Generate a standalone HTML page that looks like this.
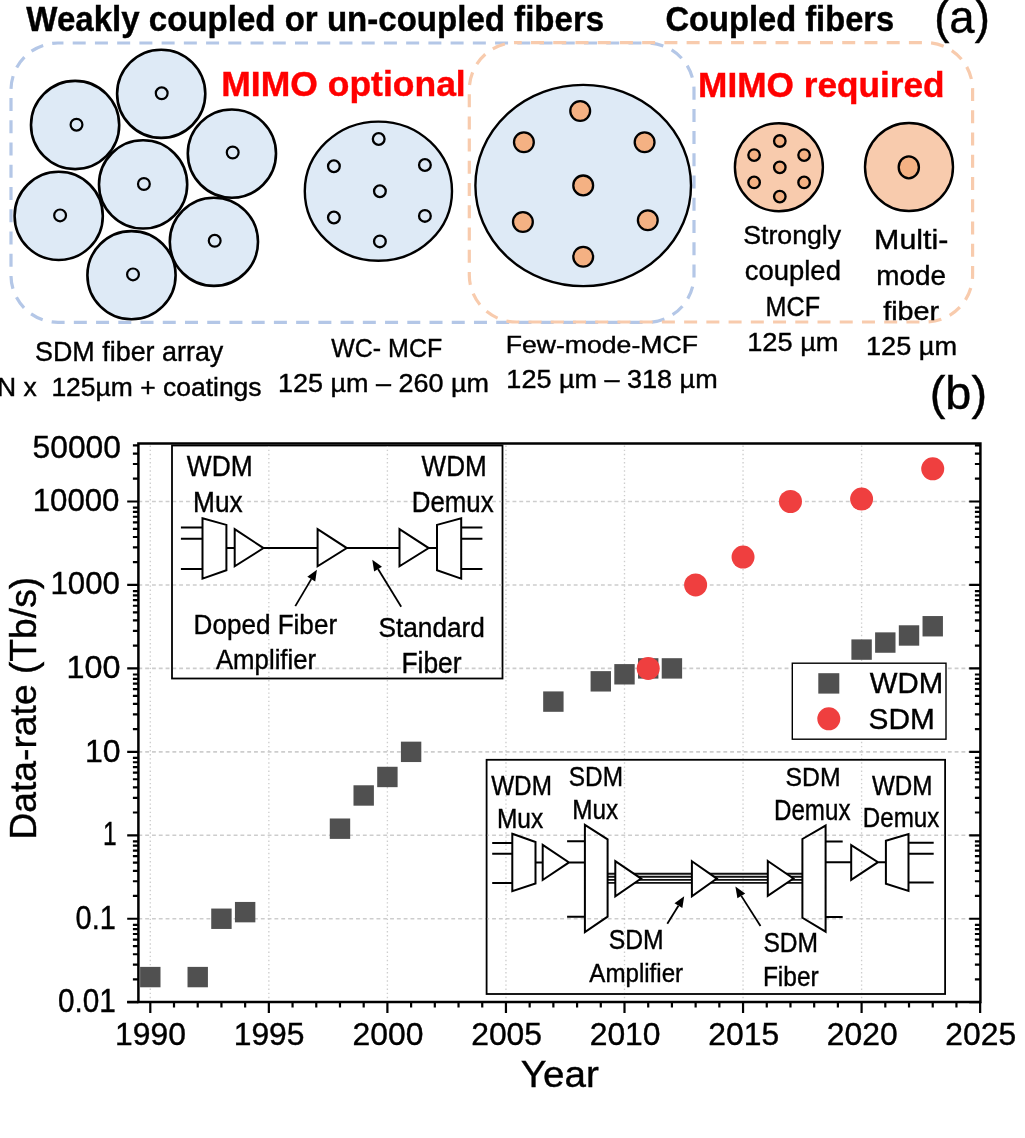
<!DOCTYPE html>
<html><head><meta charset="utf-8"><style>
html,body{margin:0;padding:0;background:#fff;width:1025px;height:1138px;overflow:hidden}
svg{display:block;will-change:transform}
text{font-family:"Liberation Sans",sans-serif;white-space:pre}
</style></head><body>
<svg width="1025" height="1138" viewBox="0 0 1025 1138">
<defs><mask id="bm" maskUnits="userSpaceOnUse" x="0" y="0" width="1025" height="1138"><rect width="1025" height="1138" fill="#fff"/><path d="M615.3 861.2L641.1 878.6L615.3 896.3ZM691.9 861.2L716.8 878.6L691.9 896.3ZM767.8 861L793.4 878.5L767.8 895.9Z" fill="#000"/></mask><clipPath id="in1"><rect x="173" y="446.5" width="328.5" height="231"/></clipPath><clipPath id="in2"><rect x="487.6" y="760.8" width="456.5" height="232.2"/></clipPath></defs>
<rect width="1025" height="1138" fill="#fff"/>
<rect x="11" y="43" width="683" height="279.3" rx="47" ry="47" fill="none" stroke="#B4C7E7" stroke-width="3.2" stroke-dasharray="13 9.23" stroke-dashoffset="7.53"/>
<rect x="469.3" y="42.6" width="503.3" height="279.4" rx="47" ry="47" fill="none" stroke="#F8CBAD" stroke-width="3.2" stroke-dasharray="13 9.23" stroke-dashoffset="7.53"/>
<circle cx="75.1" cy="125.0" r="44.1" fill="#DEEAF6" stroke="#000" stroke-width="2.6"/>
<circle cx="76.5" cy="124.7" r="5.9" fill="#DEEAF6" stroke="#000" stroke-width="2.2"/>
<circle cx="161.2" cy="93.8" r="44.1" fill="#DEEAF6" stroke="#000" stroke-width="2.6"/>
<circle cx="161.7" cy="93.3" r="5.9" fill="#DEEAF6" stroke="#000" stroke-width="2.2"/>
<circle cx="231.9" cy="153.6" r="44.1" fill="#DEEAF6" stroke="#000" stroke-width="2.6"/>
<circle cx="232.7" cy="152.5" r="5.9" fill="#DEEAF6" stroke="#000" stroke-width="2.2"/>
<circle cx="143.1" cy="184.4" r="44.1" fill="#DEEAF6" stroke="#000" stroke-width="2.6"/>
<circle cx="143.9" cy="184.0" r="5.9" fill="#DEEAF6" stroke="#000" stroke-width="2.2"/>
<circle cx="58.7" cy="215.9" r="44.1" fill="#DEEAF6" stroke="#000" stroke-width="2.6"/>
<circle cx="60.1" cy="215.4" r="5.9" fill="#DEEAF6" stroke="#000" stroke-width="2.2"/>
<circle cx="213.9" cy="241.8" r="44.1" fill="#DEEAF6" stroke="#000" stroke-width="2.6"/>
<circle cx="214.7" cy="240.8" r="5.9" fill="#DEEAF6" stroke="#000" stroke-width="2.2"/>
<circle cx="131.5" cy="275.2" r="44.1" fill="#DEEAF6" stroke="#000" stroke-width="2.6"/>
<circle cx="133.0" cy="274.4" r="5.9" fill="#DEEAF6" stroke="#000" stroke-width="2.2"/>
<ellipse cx="378.4" cy="191.2" rx="73.6" ry="69.6" fill="#DEEAF6" stroke="#000" stroke-width="2.4"/>
<circle cx="378.7" cy="139" r="5.85" fill="#DEEAF6" stroke="#000" stroke-width="2.3"/>
<circle cx="333.9" cy="166.2" r="5.85" fill="#DEEAF6" stroke="#000" stroke-width="2.3"/>
<circle cx="424.9" cy="165" r="5.85" fill="#DEEAF6" stroke="#000" stroke-width="2.3"/>
<circle cx="379.9" cy="191.3" r="5.85" fill="#DEEAF6" stroke="#000" stroke-width="2.3"/>
<circle cx="333.9" cy="217.5" r="5.85" fill="#DEEAF6" stroke="#000" stroke-width="2.3"/>
<circle cx="424.9" cy="215.9" r="5.85" fill="#DEEAF6" stroke="#000" stroke-width="2.3"/>
<circle cx="379.9" cy="241.4" r="5.85" fill="#DEEAF6" stroke="#000" stroke-width="2.3"/>
<ellipse cx="583.2" cy="185.5" rx="107.8" ry="100.6" fill="#DEEAF6" stroke="#000" stroke-width="2.4"/>
<circle cx="580.2" cy="111" r="9.9" fill="#F4B183" stroke="#000" stroke-width="2.3"/>
<circle cx="523.9" cy="142.2" r="9.9" fill="#F4B183" stroke="#000" stroke-width="2.3"/>
<circle cx="644.6" cy="142.2" r="9.9" fill="#F4B183" stroke="#000" stroke-width="2.3"/>
<circle cx="583.2" cy="185.4" r="9.9" fill="#F4B183" stroke="#000" stroke-width="2.3"/>
<circle cx="522.9" cy="222" r="9.9" fill="#F4B183" stroke="#000" stroke-width="2.3"/>
<circle cx="647.8" cy="220.2" r="9.9" fill="#F4B183" stroke="#000" stroke-width="2.3"/>
<circle cx="583.2" cy="256.8" r="9.9" fill="#F4B183" stroke="#000" stroke-width="2.3"/>
<circle cx="778.9" cy="167.3" r="44.0" fill="#F8CBAD" stroke="#000" stroke-width="2.4"/>
<circle cx="779.8" cy="141" r="5.75" fill="#F4B183" stroke="#000" stroke-width="2.35"/>
<circle cx="754.1" cy="155.1" r="5.75" fill="#F4B183" stroke="#000" stroke-width="2.35"/>
<circle cx="804.1" cy="155.1" r="5.75" fill="#F4B183" stroke="#000" stroke-width="2.35"/>
<circle cx="779.8" cy="167.3" r="5.75" fill="#F4B183" stroke="#000" stroke-width="2.35"/>
<circle cx="754.1" cy="182.4" r="5.75" fill="#F4B183" stroke="#000" stroke-width="2.35"/>
<circle cx="804.1" cy="182.4" r="5.75" fill="#F4B183" stroke="#000" stroke-width="2.35"/>
<circle cx="779.8" cy="196.6" r="5.75" fill="#F4B183" stroke="#000" stroke-width="2.35"/>
<circle cx="909" cy="167" r="44.0" fill="#F8CBAD" stroke="#000" stroke-width="2.4"/>
<ellipse cx="908.8" cy="167.3" rx="10.1" ry="11.0" fill="#F4B183" stroke="#000" stroke-width="2.35"/>
<text transform="matrix(0.9587 0 0 1 26.32 31.30)" font-size="34.48" font-weight="bold" fill="#000" stroke="#000" stroke-width="0.4" >Weakly coupled or un-coupled fibers</text>
<text transform="matrix(0.9479 0 0 1 665.49 31.00)" font-size="34.48" font-weight="bold" fill="#000" stroke="#000" stroke-width="0.4" >Coupled fibers</text>
<text transform="matrix(0.9880 0 0 1 934.15 33.43)" font-size="46.11" font-weight="normal" fill="#000" stroke="#000" stroke-width="0.4" >(a)</text>
<text transform="matrix(1.0136 0 0 1 221.30 95.80)" font-size="35.03" font-weight="bold" fill="#FF0000" stroke="#FF0000" stroke-width="0.4" >MIMO optional</text>
<text transform="matrix(1.0174 0 0 1 698.12 97.20)" font-size="34.62" font-weight="bold" fill="#FF0000" stroke="#FF0000" stroke-width="0.4" >MIMO required</text>
<text transform="matrix(0.9566 0 0 1 34.99 360.70)" font-size="28.14" font-weight="normal" fill="#000" stroke="#000" stroke-width="0.4" >SDM fiber array</text>
<text transform="matrix(1.0547 0 0 1 -2.98 395.70)" font-size="25.10" font-weight="normal" fill="#000" stroke="#000" stroke-width="0.4" >N x  125µm + coatings</text>
<text transform="matrix(0.9465 0 0 1 331.28 356.60)" font-size="26.38" font-weight="normal" fill="#000" stroke="#000" stroke-width="0.4" >WC- MCF</text>
<text transform="matrix(1.0633 0 0 1 277.98 392.20)" font-size="25.38" font-weight="normal" fill="#000" stroke="#000" stroke-width="0.4" >125 µm – 260 µm</text>
<text transform="matrix(1.0960 0 0 1 505.71 352.90)" font-size="24.28" font-weight="normal" fill="#000" stroke="#000" stroke-width="0.4" >Few-mode-MCF</text>
<text transform="matrix(1.0471 0 0 1 506.37 388.00)" font-size="25.81" font-weight="normal" fill="#000" stroke="#000" stroke-width="0.4" >125 µm – 318 µm</text>
<text transform="matrix(1.0140 0 0 1 743.20 244.00)" font-size="26.34" font-weight="normal" fill="#000" stroke="#000" stroke-width="0.4" >Strongly</text>
<text transform="matrix(0.9955 0 0 1 744.73 280.10)" font-size="27.59" font-weight="normal" fill="#000" stroke="#000" stroke-width="0.4" >coupled</text>
<text transform="matrix(0.9238 0 0 1 765.62 316.00)" font-size="27.24" font-weight="normal" fill="#000" stroke="#000" stroke-width="0.4" >MCF</text>
<text transform="matrix(1.0329 0 0 1 747.16 351.30)" font-size="26.38" font-weight="normal" fill="#000" stroke="#000" stroke-width="0.4" >125 µm</text>
<text transform="matrix(1.1237 0 0 1 874.09 249.00)" font-size="27.03" font-weight="normal" fill="#000" stroke="#000" stroke-width="0.4" >Multi-</text>
<text transform="matrix(1.0051 0 0 1 876.32 284.50)" font-size="27.72" font-weight="normal" fill="#000" stroke="#000" stroke-width="0.4" >mode</text>
<text transform="matrix(1.0979 0 0 1 883.17 319.70)" font-size="26.21" font-weight="normal" fill="#000" stroke="#000" stroke-width="0.4" >fiber</text>
<text transform="matrix(1.0293 0 0 1 865.96 355.40)" font-size="26.38" font-weight="normal" fill="#000" stroke="#000" stroke-width="0.4" >125 µm</text>
<text transform="matrix(0.9948 0 0 1 929.77 409.33)" font-size="47.08" font-weight="normal" fill="#000" stroke="#000" stroke-width="0.4" >(b)</text>
<line x1="138.4" y1="918.75" x2="980.4" y2="918.75" stroke="#CDCDCD" stroke-width="1.6" stroke-dasharray="3.85 2.952"/>
<line x1="138.4" y1="835.30" x2="980.4" y2="835.30" stroke="#CDCDCD" stroke-width="1.6" stroke-dasharray="3.85 2.952"/>
<line x1="138.4" y1="751.85" x2="980.4" y2="751.85" stroke="#CDCDCD" stroke-width="1.6" stroke-dasharray="3.85 2.952"/>
<line x1="138.4" y1="668.40" x2="980.4" y2="668.40" stroke="#CDCDCD" stroke-width="1.6" stroke-dasharray="3.85 2.952"/>
<line x1="138.4" y1="584.95" x2="980.4" y2="584.95" stroke="#CDCDCD" stroke-width="1.6" stroke-dasharray="3.85 2.952"/>
<line x1="138.4" y1="501.50" x2="980.4" y2="501.50" stroke="#CDCDCD" stroke-width="1.6" stroke-dasharray="3.85 2.952"/>
<line x1="150.30" y1="443.5" x2="150.30" y2="1002.0" stroke="#CDCDCD" stroke-width="1.35" stroke-dasharray="1.4 2.7135" stroke-dashoffset="2.02"/>
<line x1="268.85" y1="443.5" x2="268.85" y2="1002.0" stroke="#CDCDCD" stroke-width="1.35" stroke-dasharray="1.4 2.7135" stroke-dashoffset="2.02"/>
<line x1="387.40" y1="443.5" x2="387.40" y2="1002.0" stroke="#CDCDCD" stroke-width="1.35" stroke-dasharray="1.4 2.7135" stroke-dashoffset="2.02"/>
<line x1="505.95" y1="443.5" x2="505.95" y2="1002.0" stroke="#CDCDCD" stroke-width="1.35" stroke-dasharray="1.4 2.7135" stroke-dashoffset="2.02"/>
<line x1="624.50" y1="443.5" x2="624.50" y2="1002.0" stroke="#CDCDCD" stroke-width="1.35" stroke-dasharray="1.4 2.7135" stroke-dashoffset="2.02"/>
<line x1="743.05" y1="443.5" x2="743.05" y2="1002.0" stroke="#CDCDCD" stroke-width="1.35" stroke-dasharray="1.4 2.7135" stroke-dashoffset="2.02"/>
<line x1="861.60" y1="443.5" x2="861.60" y2="1002.0" stroke="#CDCDCD" stroke-width="1.35" stroke-dasharray="1.4 2.7135" stroke-dashoffset="2.02"/>
<path d="M127.20 1002.20H138.4 M969.20 1002.20H980.4 M132.90 979.38H138.4 M974.90 979.38H980.4 M132.90 964.68H138.4 M974.90 964.68H980.4 M132.90 954.26H138.4 M974.90 954.26H980.4 M132.90 946.17H138.4 M974.90 946.17H980.4 M132.90 939.56H138.4 M974.90 939.56H980.4 M132.90 933.98H138.4 M974.90 933.98H980.4 M132.90 929.14H138.4 M974.90 929.14H980.4 M132.90 924.87H138.4 M974.90 924.87H980.4 M127.20 918.75H138.4 M969.20 918.75H980.4 M132.90 895.93H138.4 M974.90 895.93H980.4 M132.90 881.23H138.4 M974.90 881.23H980.4 M132.90 870.81H138.4 M974.90 870.81H980.4 M132.90 862.72H138.4 M974.90 862.72H980.4 M132.90 856.11H138.4 M974.90 856.11H980.4 M132.90 850.53H138.4 M974.90 850.53H980.4 M132.90 845.69H138.4 M974.90 845.69H980.4 M132.90 841.42H138.4 M974.90 841.42H980.4 M127.20 835.30H138.4 M969.20 835.30H980.4 M132.90 812.48H138.4 M974.90 812.48H980.4 M132.90 797.78H138.4 M974.90 797.78H980.4 M132.90 787.36H138.4 M974.90 787.36H980.4 M132.90 779.27H138.4 M974.90 779.27H980.4 M132.90 772.66H138.4 M974.90 772.66H980.4 M132.90 767.08H138.4 M974.90 767.08H980.4 M132.90 762.24H138.4 M974.90 762.24H980.4 M132.90 757.97H138.4 M974.90 757.97H980.4 M127.20 751.85H138.4 M969.20 751.85H980.4 M132.90 729.03H138.4 M974.90 729.03H980.4 M132.90 714.33H138.4 M974.90 714.33H980.4 M132.90 703.91H138.4 M974.90 703.91H980.4 M132.90 695.82H138.4 M974.90 695.82H980.4 M132.90 689.21H138.4 M974.90 689.21H980.4 M132.90 683.63H138.4 M974.90 683.63H980.4 M132.90 678.79H138.4 M974.90 678.79H980.4 M132.90 674.52H138.4 M974.90 674.52H980.4 M127.20 668.40H138.4 M969.20 668.40H980.4 M132.90 645.58H138.4 M974.90 645.58H980.4 M132.90 630.88H138.4 M974.90 630.88H980.4 M132.90 620.46H138.4 M974.90 620.46H980.4 M132.90 612.37H138.4 M974.90 612.37H980.4 M132.90 605.76H138.4 M974.90 605.76H980.4 M132.90 600.18H138.4 M974.90 600.18H980.4 M132.90 595.34H138.4 M974.90 595.34H980.4 M132.90 591.07H138.4 M974.90 591.07H980.4 M127.20 584.95H138.4 M969.20 584.95H980.4 M132.90 562.13H138.4 M974.90 562.13H980.4 M132.90 547.43H138.4 M974.90 547.43H980.4 M132.90 537.01H138.4 M974.90 537.01H980.4 M132.90 528.92H138.4 M974.90 528.92H980.4 M132.90 522.31H138.4 M974.90 522.31H980.4 M132.90 516.73H138.4 M974.90 516.73H980.4 M132.90 511.89H138.4 M974.90 511.89H980.4 M132.90 507.62H138.4 M974.90 507.62H980.4 M127.20 501.50H138.4 M969.20 501.50H980.4 M132.90 478.68H138.4 M974.90 478.68H980.4 M132.90 463.98H138.4 M974.90 463.98H980.4 M132.90 453.56H138.4 M974.90 453.56H980.4 M132.90 445.47H138.4 M974.90 445.47H980.4 M150.30 1002.0V1013.00 M174.01 1002.0V1007.50 M197.72 1002.0V1007.50 M221.43 1002.0V1007.50 M245.14 1002.0V1007.50 M268.85 1002.0V1013.00 M292.56 1002.0V1007.50 M316.27 1002.0V1007.50 M339.98 1002.0V1007.50 M363.69 1002.0V1007.50 M387.40 1002.0V1013.00 M411.11 1002.0V1007.50 M434.82 1002.0V1007.50 M458.53 1002.0V1007.50 M482.24 1002.0V1007.50 M505.95 1002.0V1013.00 M529.66 1002.0V1007.50 M553.37 1002.0V1007.50 M577.08 1002.0V1007.50 M600.79 1002.0V1007.50 M624.50 1002.0V1013.00 M648.21 1002.0V1007.50 M671.92 1002.0V1007.50 M695.63 1002.0V1007.50 M719.34 1002.0V1007.50 M743.05 1002.0V1013.00 M766.76 1002.0V1007.50 M790.47 1002.0V1007.50 M814.18 1002.0V1007.50 M837.89 1002.0V1007.50 M861.60 1002.0V1013.00 M885.31 1002.0V1007.50 M909.02 1002.0V1007.50 M932.73 1002.0V1007.50 M956.44 1002.0V1007.50 M980.15 1002.0V1013.00" stroke="#000" stroke-width="2.2" fill="none"/>
<rect x="138.4" y="443.5" width="842.0" height="558.5" fill="none" stroke="#000" stroke-width="2.5"/>
<path d="M127.2 1002.0H138.4" stroke="#000" stroke-width="2.5"/>
<text transform="matrix(0.9863 0 0 1 32.53 458.38)" font-size="32.23" font-weight="normal" fill="#000" stroke="#000" stroke-width="0.4" >50000</text>
<text transform="matrix(0.9819 0 0 1 32.66 510.68)" font-size="31.80" font-weight="normal" fill="#000" stroke="#000" stroke-width="0.4" >10000</text>
<text transform="matrix(0.9821 0 0 1 50.46 594.38)" font-size="31.80" font-weight="normal" fill="#000" stroke="#000" stroke-width="0.4" >1000</text>
<text transform="matrix(1.0450 0 0 1 66.57 677.99)" font-size="30.95" font-weight="normal" fill="#000" stroke="#000" stroke-width="0.4" >100</text>
<text transform="matrix(1.0146 0 0 1 85.00 761.58)" font-size="31.52" font-weight="normal" fill="#000" stroke="#000" stroke-width="0.4" >10</text>
<text transform="matrix(0.7590 0 0 1 102.96 845.00)" font-size="32.29" font-weight="normal" fill="#000" stroke="#000" stroke-width="0.4" >1</text>
<text transform="matrix(0.8827 0 0 1 75.54 928.67)" font-size="32.79" font-weight="normal" fill="#000" stroke="#000" stroke-width="0.4" >0.1</text>
<text transform="matrix(0.9158 0 0 1 57.91 1011.57)" font-size="32.51" font-weight="normal" fill="#000" stroke="#000" stroke-width="0.4" >0.01</text>
<text transform="matrix(1.0029 0 0 1 115.06 1045.38)" font-size="31.80" font-weight="normal" fill="#000" stroke="#000" stroke-width="0.4" >1990</text>
<text transform="matrix(1.0029 0 0 1 233.65 1045.38)" font-size="31.80" font-weight="normal" fill="#000" stroke="#000" stroke-width="0.4" >1995</text>
<text transform="matrix(1.0029 0 0 1 352.56 1045.38)" font-size="31.80" font-weight="normal" fill="#000" stroke="#000" stroke-width="0.4" >2000</text>
<text transform="matrix(1.0029 0 0 1 471.15 1045.38)" font-size="31.80" font-weight="normal" fill="#000" stroke="#000" stroke-width="0.4" >2005</text>
<text transform="matrix(1.0029 0 0 1 589.66 1045.38)" font-size="31.80" font-weight="normal" fill="#000" stroke="#000" stroke-width="0.4" >2010</text>
<text transform="matrix(1.0029 0 0 1 708.25 1045.38)" font-size="31.80" font-weight="normal" fill="#000" stroke="#000" stroke-width="0.4" >2015</text>
<text transform="matrix(1.0029 0 0 1 826.76 1045.38)" font-size="31.80" font-weight="normal" fill="#000" stroke="#000" stroke-width="0.4" >2020</text>
<text transform="matrix(1.0029 0 0 1 945.35 1045.38)" font-size="31.80" font-weight="normal" fill="#000" stroke="#000" stroke-width="0.4" >2025</text>
<text transform="matrix(1.0486 0 0 1 520.83 1086.60)" font-size="36.80" font-weight="normal" fill="#000" stroke="#000" stroke-width="0.4" >Year</text>
<g transform="translate(35.7 836.5) rotate(-90)"><text transform="matrix(1.0073 0 0 1 -3.07 0.00)" font-size="36.97" font-weight="normal" fill="#000" stroke="#000" stroke-width="0.4" >Data-rate (Tb/s)</text></g>
<rect x="140.10" y="966.88" width="20.4" height="20.4" fill="#505050"/>
<rect x="187.52" y="966.88" width="20.4" height="20.4" fill="#505050"/>
<rect x="211.23" y="908.55" width="20.4" height="20.4" fill="#505050"/>
<rect x="234.94" y="901.94" width="20.4" height="20.4" fill="#505050"/>
<rect x="329.78" y="818.49" width="20.4" height="20.4" fill="#505050"/>
<rect x="353.49" y="785.28" width="20.4" height="20.4" fill="#505050"/>
<rect x="377.20" y="766.77" width="20.4" height="20.4" fill="#505050"/>
<rect x="400.91" y="741.65" width="20.4" height="20.4" fill="#505050"/>
<rect x="543.17" y="691.41" width="20.4" height="20.4" fill="#505050"/>
<rect x="590.59" y="671.13" width="20.4" height="20.4" fill="#505050"/>
<rect x="614.30" y="664.09" width="20.4" height="20.4" fill="#505050"/>
<rect x="638.01" y="658.20" width="20.4" height="20.4" fill="#505050"/>
<rect x="661.72" y="658.20" width="20.4" height="20.4" fill="#505050"/>
<rect x="851.40" y="639.40" width="20.4" height="20.4" fill="#505050"/>
<rect x="875.11" y="632.36" width="20.4" height="20.4" fill="#505050"/>
<rect x="898.82" y="625.28" width="20.4" height="20.4" fill="#505050"/>
<rect x="922.53" y="616.05" width="20.4" height="20.4" fill="#505050"/>
<circle cx="648.21" cy="668.40" r="11.5" fill="#EF3F3F"/>
<circle cx="695.63" cy="584.95" r="11.5" fill="#EF3F3F"/>
<circle cx="743.05" cy="557.09" r="11.5" fill="#EF3F3F"/>
<circle cx="790.47" cy="501.50" r="11.5" fill="#EF3F3F"/>
<circle cx="861.60" cy="499.05" r="11.5" fill="#EF3F3F"/>
<circle cx="932.73" cy="468.80" r="11.5" fill="#EF3F3F"/>
<rect x="792.3" y="663.2" width="153.7" height="76" fill="#fff" stroke="#000" stroke-width="1.4"/>
<rect x="818.3" y="673.2" width="21" height="20.4" fill="#505050"/>
<circle cx="828.8" cy="718.8" r="11.5" fill="#EF3F3F"/>
<text transform="matrix(0.9664 0 0 1 869.75 693.40)" font-size="30.40" font-weight="normal" fill="#000" stroke="#000" stroke-width="0.4" >WDM</text>
<text transform="matrix(0.9862 0 0 1 868.56 729.40)" font-size="30.25" font-weight="normal" fill="#000" stroke="#000" stroke-width="0.4" >SDM</text>
<rect x="172" y="445.5" width="330.5" height="233" fill="#fff" stroke="#000" stroke-width="1.8"/>
<g clip-path="url(#in1)">
<line x1="138.4" y1="918.75" x2="980.4" y2="918.75" stroke="#CDCDCD" stroke-width="1.6" stroke-dasharray="3.85 2.952"/>
<line x1="138.4" y1="835.30" x2="980.4" y2="835.30" stroke="#CDCDCD" stroke-width="1.6" stroke-dasharray="3.85 2.952"/>
<line x1="138.4" y1="751.85" x2="980.4" y2="751.85" stroke="#CDCDCD" stroke-width="1.6" stroke-dasharray="3.85 2.952"/>
<line x1="138.4" y1="668.40" x2="980.4" y2="668.40" stroke="#CDCDCD" stroke-width="1.6" stroke-dasharray="3.85 2.952"/>
<line x1="138.4" y1="584.95" x2="980.4" y2="584.95" stroke="#CDCDCD" stroke-width="1.6" stroke-dasharray="3.85 2.952"/>
<line x1="138.4" y1="501.50" x2="980.4" y2="501.50" stroke="#CDCDCD" stroke-width="1.6" stroke-dasharray="3.85 2.952"/>
<line x1="150.30" y1="443.5" x2="150.30" y2="1002.0" stroke="#CDCDCD" stroke-width="1.35" stroke-dasharray="1.4 2.7135" stroke-dashoffset="2.02"/>
<line x1="268.85" y1="443.5" x2="268.85" y2="1002.0" stroke="#CDCDCD" stroke-width="1.35" stroke-dasharray="1.4 2.7135" stroke-dashoffset="2.02"/>
<line x1="387.40" y1="443.5" x2="387.40" y2="1002.0" stroke="#CDCDCD" stroke-width="1.35" stroke-dasharray="1.4 2.7135" stroke-dashoffset="2.02"/>
<line x1="505.95" y1="443.5" x2="505.95" y2="1002.0" stroke="#CDCDCD" stroke-width="1.35" stroke-dasharray="1.4 2.7135" stroke-dashoffset="2.02"/>
<line x1="624.50" y1="443.5" x2="624.50" y2="1002.0" stroke="#CDCDCD" stroke-width="1.35" stroke-dasharray="1.4 2.7135" stroke-dashoffset="2.02"/>
<line x1="743.05" y1="443.5" x2="743.05" y2="1002.0" stroke="#CDCDCD" stroke-width="1.35" stroke-dasharray="1.4 2.7135" stroke-dashoffset="2.02"/>
<line x1="861.60" y1="443.5" x2="861.60" y2="1002.0" stroke="#CDCDCD" stroke-width="1.35" stroke-dasharray="1.4 2.7135" stroke-dashoffset="2.02"/>
</g>
<path d="M202.5 518.2L226.4 524.9V570.3L202.5 578.6Z M180.9 527.5H202.5M180.9 538.8H202.5M180.9 569H202.5 M226.4 548.1H234.7 M234.7 529.2L263.5 548.1L234.7 566.3Z M263.5 548.1H317.6 M317.6 529.2L346.8 548.1L317.6 566.3Z M346.8 548.1H399.5 M399.5 529.2L428.7 548.1L399.5 566.3Z M428.7 548.1H437 M437 524.9L461.2 518.2V578.6L437 570.3Z M461.2 527.5H482.4M461.2 538.8H482.4M461.2 569H482.4" stroke="#000" stroke-width="2" fill="none" stroke-linejoin="miter"/>
<path d="M295.30 606.10L311.29 579.16" stroke="#000" stroke-width="1.8"/><path d="M316.90 569.70L315.24 581.51L307.33 576.81Z" fill="#000"/>
<path d="M401.20 606.80L378.05 569.08" stroke="#000" stroke-width="1.8"/><path d="M372.30 559.70L381.97 566.67L374.13 571.48Z" fill="#000"/>
<text transform="matrix(0.8968 0 0 1 186.87 476.00)" font-size="29.38" font-weight="normal" fill="#000" stroke="#000" stroke-width="0.4" >WDM</text>
<text transform="matrix(0.8931 0 0 1 193.04 512.00)" font-size="29.38" font-weight="normal" fill="#000" stroke="#000" stroke-width="0.4" >Mux</text>
<text transform="matrix(0.8739 0 0 1 421.57 476.20)" font-size="29.82" font-weight="normal" fill="#000" stroke="#000" stroke-width="0.4" >WDM</text>
<text transform="matrix(0.8939 0 0 1 411.77 511.70)" font-size="28.95" font-weight="normal" fill="#000" stroke="#000" stroke-width="0.4" >Demux</text>
<text transform="matrix(0.9271 0 0 1 193.55 633.70)" font-size="28.14" font-weight="normal" fill="#000" stroke="#000" stroke-width="0.4" >Doped Fiber</text>
<text transform="matrix(0.9159 0 0 1 215.94 669.30)" font-size="28.14" font-weight="normal" fill="#000" stroke="#000" stroke-width="0.4" >Amplifier</text>
<text transform="matrix(0.9321 0 0 1 378.52 636.60)" font-size="28.14" font-weight="normal" fill="#000" stroke="#000" stroke-width="0.4" >Standard</text>
<text transform="matrix(0.9210 0 0 1 401.42 672.90)" font-size="28.69" font-weight="normal" fill="#000" stroke="#000" stroke-width="0.4" >Fiber</text>
<rect x="486.6" y="759.8" width="458.5" height="234.2" fill="#fff" stroke="#000" stroke-width="1.8"/>
<g clip-path="url(#in2)">
<line x1="138.4" y1="918.75" x2="980.4" y2="918.75" stroke="#CDCDCD" stroke-width="1.6" stroke-dasharray="3.85 2.952"/>
<line x1="138.4" y1="835.30" x2="980.4" y2="835.30" stroke="#CDCDCD" stroke-width="1.6" stroke-dasharray="3.85 2.952"/>
<line x1="138.4" y1="751.85" x2="980.4" y2="751.85" stroke="#CDCDCD" stroke-width="1.6" stroke-dasharray="3.85 2.952"/>
<line x1="138.4" y1="668.40" x2="980.4" y2="668.40" stroke="#CDCDCD" stroke-width="1.6" stroke-dasharray="3.85 2.952"/>
<line x1="138.4" y1="584.95" x2="980.4" y2="584.95" stroke="#CDCDCD" stroke-width="1.6" stroke-dasharray="3.85 2.952"/>
<line x1="138.4" y1="501.50" x2="980.4" y2="501.50" stroke="#CDCDCD" stroke-width="1.6" stroke-dasharray="3.85 2.952"/>
<line x1="150.30" y1="443.5" x2="150.30" y2="1002.0" stroke="#CDCDCD" stroke-width="1.35" stroke-dasharray="1.4 2.7135" stroke-dashoffset="2.02"/>
<line x1="268.85" y1="443.5" x2="268.85" y2="1002.0" stroke="#CDCDCD" stroke-width="1.35" stroke-dasharray="1.4 2.7135" stroke-dashoffset="2.02"/>
<line x1="387.40" y1="443.5" x2="387.40" y2="1002.0" stroke="#CDCDCD" stroke-width="1.35" stroke-dasharray="1.4 2.7135" stroke-dashoffset="2.02"/>
<line x1="505.95" y1="443.5" x2="505.95" y2="1002.0" stroke="#CDCDCD" stroke-width="1.35" stroke-dasharray="1.4 2.7135" stroke-dashoffset="2.02"/>
<line x1="624.50" y1="443.5" x2="624.50" y2="1002.0" stroke="#CDCDCD" stroke-width="1.35" stroke-dasharray="1.4 2.7135" stroke-dashoffset="2.02"/>
<line x1="743.05" y1="443.5" x2="743.05" y2="1002.0" stroke="#CDCDCD" stroke-width="1.35" stroke-dasharray="1.4 2.7135" stroke-dashoffset="2.02"/>
<line x1="861.60" y1="443.5" x2="861.60" y2="1002.0" stroke="#CDCDCD" stroke-width="1.35" stroke-dasharray="1.4 2.7135" stroke-dashoffset="2.02"/>
</g>
<path d="M607.6 873.70H802.4 M607.6 876.77H802.4 M607.6 879.84H802.4 M607.6 882.91H802.4" stroke="#111" stroke-width="1.9" fill="none" mask="url(#bm)"/>
<path d="M512.3 833.8L535.5 842V883.5L512.3 891.2Z M492.2 843H512.3M492.2 853.7H512.3M492.2 883H512.3 M535.5 862.4H542.7 M542.7 844.8L569 862.4L542.7 880Z M569 862.4H584.9 M584.9 824.9L607.6 839.4V916.7L584.9 932.2Z M567.1 841.3H584.9M567.1 916.7H584.9 M615.3 861.2L641.1 878.6L615.3 896.3Z M691.9 861.2L716.8 878.6L691.9 896.3Z M767.8 861L793.4 878.5L767.8 895.9Z M802.4 839L825.6 825.6V931.7L802.4 917.8Z M825.6 841.5H842.7M825.6 917.1H842.7M825.6 862.2H851.2 M851.2 845.1L878 862.2L851.2 879.8Z M878 862.2H885.9 M885.9 840.7L908.5 834.1V891L885.9 883.7Z M908.5 842.7H933.7M908.5 853.7H933.7M908.5 882.4H933.7" stroke="#000" stroke-width="2" fill="none" stroke-linejoin="miter"/>
<path d="M667.30 923.70L678.43 905.66" stroke="#000" stroke-width="1.8"/><path d="M684.20 896.30L682.34 908.08L674.51 903.25Z" fill="#000"/>
<path d="M760.50 926.10L741.30 895.88" stroke="#000" stroke-width="1.8"/><path d="M735.40 886.60L745.18 893.42L737.42 898.35Z" fill="#000"/>
<text transform="matrix(0.8988 0 0 1 491.18 794.80)" font-size="27.05" font-weight="normal" fill="#000" stroke="#000" stroke-width="0.4" >WDM</text>
<text transform="matrix(0.9060 0 0 1 496.88 828.10)" font-size="27.05" font-weight="normal" fill="#000" stroke="#000" stroke-width="0.4" >Mux</text>
<text transform="matrix(0.8653 0 0 1 568.80 786.40)" font-size="28.24" font-weight="normal" fill="#000" stroke="#000" stroke-width="0.4" >SDM</text>
<text transform="matrix(0.8883 0 0 1 572.20 819.30)" font-size="27.35" font-weight="normal" fill="#000" stroke="#000" stroke-width="0.4" >Mux</text>
<text transform="matrix(0.9442 0 0 1 785.59 786.00)" font-size="26.24" font-weight="normal" fill="#000" stroke="#000" stroke-width="0.4" >SDM</text>
<text transform="matrix(0.8428 0 0 1 774.01 819.80)" font-size="28.65" font-weight="normal" fill="#000" stroke="#000" stroke-width="0.4" >Demux</text>
<text transform="matrix(0.8862 0 0 1 871.98 795.00)" font-size="27.35" font-weight="normal" fill="#000" stroke="#000" stroke-width="0.4" >WDM</text>
<text transform="matrix(0.8879 0 0 1 862.81 827.40)" font-size="27.20" font-weight="normal" fill="#000" stroke="#000" stroke-width="0.4" >Demux</text>
<text transform="matrix(0.8936 0 0 1 608.69 949.10)" font-size="27.67" font-weight="normal" fill="#000" stroke="#000" stroke-width="0.4" >SDM</text>
<text transform="matrix(0.9060 0 0 1 589.34 982.40)" font-size="26.62" font-weight="normal" fill="#000" stroke="#000" stroke-width="0.4" >Amplifier</text>
<text transform="matrix(0.8855 0 0 1 763.39 951.70)" font-size="27.81" font-weight="normal" fill="#000" stroke="#000" stroke-width="0.4" >SDM</text>
<text transform="matrix(0.9154 0 0 1 762.88 985.70)" font-size="26.76" font-weight="normal" fill="#000" stroke="#000" stroke-width="0.4" >Fiber</text>
</svg>
</body></html>
